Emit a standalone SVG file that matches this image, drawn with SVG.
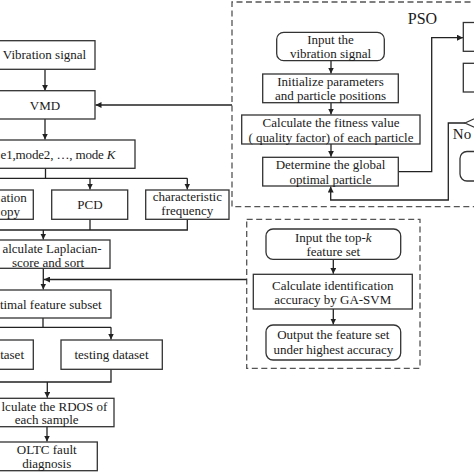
<svg xmlns="http://www.w3.org/2000/svg" width="474" height="474" viewBox="0 0 474 474">
<defs>
<marker id="ah" viewBox="0 0 8 8" refX="8" refY="4" markerWidth="6" markerHeight="6" markerUnits="userSpaceOnUse" orient="auto">
<path d="M0,0 L8,4 L0,8 z" fill="#222"/>
</marker>
<style>
.b{fill:#fff;stroke:#333;stroke-width:1.3}
.d{fill:none;stroke:#555;stroke-width:1.3;stroke-dasharray:6,3.5}
.c{fill:none;stroke:#222;stroke-width:1.3}
.a{fill:none;stroke:#222;stroke-width:1.3;marker-end:url(#ah)}
text{font-family:"Liberation Serif","Times New Roman",serif;font-size:13px;fill:#1a1a1a;text-anchor:middle}
.e{text-anchor:end}
.s{text-anchor:start}
.big{font-size:16px}
.no{font-size:15px}
</style>
</defs>
<rect width="474" height="474" fill="#fff"/>

<!-- dashed containers -->
<g id="pso-container">
<path class="d" d="M480,2 H232 V206.7 H480"/>
<text class="big" x="422.5" y="23.5">PSO</text>
</g>
<g id="gasvm-container">
<rect class="d" x="246.7" y="219.3" width="173.3" height="149"/>
</g>

<g id="connectors">
<path class="a" d="M45,70 V90.7"/>
<path class="a" d="M232,105 H95.5"/>
<path class="a" d="M45,119 V139.5"/>
<path class="c" d="M45.5,168 V178.3 M-5,178.3 H187.3"/>
<path class="a" d="M-5,178.3 V189.5"/>
<path class="a" d="M90,178.3 V189.5"/>
<path class="a" d="M187.3,178.3 V189.5"/>
<path class="c" d="M-5,219.3 V230 H187.3 V219.3 M90,219.3 V230"/>
<path class="a" d="M43.3,230 V239.5"/>
<path class="a" d="M43.3,268.3 V289.5"/>
<path class="a" d="M246.7,279.5 H44"/>
<path class="c" d="M43,318 V327.3 M-16,327.3 H111"/>
<path class="a" d="M-16,327.3 V339.5"/>
<path class="a" d="M111,327.3 V339.5"/>
<path class="c" d="M-16,369.3 V382 H111 V369.3"/>
<path class="a" d="M47.3,382 V397.8"/>
<path class="a" d="M47,426.7 V441.5"/>
<!-- PSO internal -->
<path class="a" d="M331,60.7 V73.5"/>
<path class="a" d="M331,102.7 V114.5"/>
<path class="a" d="M331,144 V156.8"/>
<path class="a" d="M398.3,171.7 H431.7 V37.7 H463"/>
<path class="a" d="M465,123 H448.3 V200 H330.7 V186.5"/>
<!-- GA-SVM internal -->
<path class="a" d="M333.3,259.3 V273.8"/>
<path class="a" d="M333.3,309 V324.5"/>
</g>

<g id="n-vibration">
<rect class="b" x="-6" y="40.7" width="101" height="28.6"/>
<text x="44.5" y="59">Vibration signal</text>
</g>
<g id="n-vmd">
<rect class="b" x="-5" y="90.7" width="100" height="28.3"/>
<text x="45" y="110">VMD</text>
</g>
<g id="n-modes">
<rect class="b" x="-45" y="140" width="180" height="28.3"/>
<text class="s" x="0.5" y="159" textLength="115" lengthAdjust="spacing">e1,mode2, …, mode <tspan font-style="italic">K</tspan></text>
</g>
<g id="n-entropy">
<rect class="b" x="-43" y="190" width="76.3" height="29.3"/>
<text class="e" x="26.8" y="202">ation</text>
<text class="s" x="0.5" y="215.5">opy</text>
</g>
<g id="n-pcd">
<rect class="b" x="51.7" y="190" width="76" height="29.3"/>
<text x="90" y="208.5">PCD</text>
</g>
<g id="n-charfreq">
<rect class="b" x="145.7" y="190" width="83.3" height="29.3"/>
<text x="187.3" y="201">characteristic</text>
<text x="187.3" y="215">frequency</text>
</g>
<g id="n-laplacian">
<rect class="b" x="-14" y="240" width="124" height="28.3"/>
<text class="e" x="101.7" y="252.5">alculate Laplacian-</text>
<text x="48" y="266.5">score and sort</text>
</g>
<g id="n-optimal">
<rect class="b" x="-25" y="290" width="136" height="28"/>
<text class="e" x="101.7" y="308.5">timal feature subset</text>
</g>
<g id="n-training">
<rect class="b" x="-66" y="340" width="99.3" height="29.3"/>
<text class="e" x="24" y="358.5">taset</text>
</g>
<g id="n-testing">
<rect class="b" x="61" y="340" width="101.3" height="29.3"/>
<text x="111.5" y="358.5">testing dataset</text>
</g>
<g id="n-rdos">
<rect class="b" x="-20" y="398.3" width="134" height="28.4"/>
<text class="e" x="107.3" y="410.5">lculate the RDOS of</text>
<text x="46.7" y="424">each sample</text>
</g>
<g id="n-oltc">
<rect class="b" x="-4" y="442" width="101.3" height="28.7"/>
<text x="46.7" y="454">OLTC fault</text>
<text x="46.7" y="467.5">diagnosis</text>
</g>

<g id="n-input-signal">
<rect class="b" x="276.7" y="32.3" width="107.6" height="28.4" rx="7"/>
<text x="330.5" y="43.5">Input the</text>
<text x="330.5" y="58">vibration signal</text>
</g>
<g id="n-initialize">
<rect class="b" x="262.7" y="74" width="135.6" height="28.7"/>
<text x="330.5" y="85.5">Initialize parameters</text>
<text x="330.5" y="100">and particle positions</text>
</g>
<g id="n-fitness">
<rect class="b" x="241.7" y="115" width="178.3" height="29"/>
<text x="331" y="126.7">Calculate the fitness value</text>
<text x="331" y="141.5">( quality factor) of each particle</text>
</g>
<g id="n-global">
<rect class="b" x="262.7" y="157.3" width="135.6" height="28.7"/>
<text x="330.5" y="168.5">Determine the global</text>
<text x="330.5" y="183.5">optimal particle</text>
</g>
<g id="n-right1">
<rect class="b" x="463.3" y="22.5" width="60" height="28.8"/>
</g>
<g id="n-right2">
<rect class="b" x="463.3" y="63.3" width="60" height="28.7"/>
</g>
<g id="n-decision">
<polygon class="b" points="465,123 520,98 575,123 520,148"/>
<text class="no" x="462" y="138.5">No</text>
</g>
<g id="n-right3">
<rect class="b" x="460" y="151.5" width="60" height="29.5" rx="7"/>
</g>

<g id="n-topk">
<rect class="b" x="266" y="229" width="134.7" height="30.3" rx="7"/>
<text x="333.3" y="242">Input the top-<tspan font-style="italic">k</tspan></text>
<text x="333.3" y="256">feature set</text>
</g>
<g id="n-gasvm">
<rect class="b" x="253.3" y="274.3" width="159" height="34.7"/>
<text x="332.8" y="289.5">Calculate identification</text>
<text x="332.8" y="304">accuracy by GA-SVM</text>
</g>
<g id="n-output">
<rect class="b" x="266" y="325" width="134.7" height="35" rx="7"/>
<text x="333.3" y="338.5">Output the feature set</text>
<text x="333.3" y="354">under highest accuracy</text>
</g>
</svg>
